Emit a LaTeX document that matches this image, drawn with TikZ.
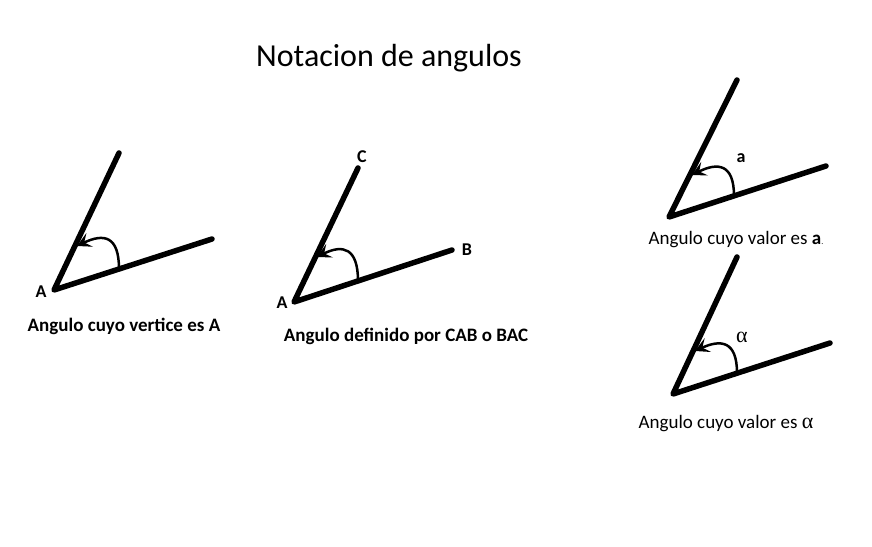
\documentclass[tikz,border=0pt]{standalone}
\usepackage{fontspec}
\setmainfont{Carlito}
\newfontfamily\greekfont{Liberation Serif}
\usetikzlibrary{arrows.meta}
\begin{document}
\begin{tikzpicture}[x=1pt,y=-1pt,
  arm/.style={line width=5.5pt,line cap=round,line join=round},
  arcar/.style={line width=2.5pt,-{Stealth[length=14pt,width=15pt,inset=6pt]}},
  lbl/.style={font=\fontsize{18}{18}\selectfont\bfseries,inner sep=0pt},
  capb/.style={font=\fontsize{19}{19}\selectfont\bfseries,inner sep=0pt},
  capr/.style={font=\fontsize{19}{19}\selectfont,inner sep=0pt}]
\useasboundingbox[fill=white] (0,0) rectangle (872,546);
\node[font=\fontsize{32}{32}\selectfont,inner sep=0pt] (title) at (389,58) {Notacion de angulos};
% figure 1
\coordinate (A1) at (54,290); \coordinate (U1) at (119,153); \coordinate (L1) at (212,239);
\draw[arm] (U1) -- (A1) -- (L1);
\coordinate (s1) at (119,269); \coordinate (e1) at (77,246);
\draw[arcar] (s1) .. controls (119,236) and (104,233) .. (e1);
\node[lbl] (la1) at (41,292) {A};
\node[capb] (c1) at (124,326) {Angulo cuyo vertice es A};
% figure 2
\coordinate (A2) at (294,302); \coordinate (U2) at (358,168); \coordinate (L2) at (452,250);
\draw[arm] (U2) -- (A2) -- (L2);
\coordinate (s2) at (358,281); \coordinate (e2) at (317,257);
\draw[arcar] (s2) .. controls (358,248) and (343,244) .. (e2);
\node[lbl] (la2) at (282,303) {A};
\node[lbl] (lc2) at (362,157) {C};
\node[lbl] (lb2) at (467,250) {B};
\node[capb] (c2) at (406,336) {Angulo definido por CAB o BAC};
% figure 3
\coordinate (A3) at (669,217); \coordinate (U3) at (737,80); \coordinate (L3) at (826,166);
\draw[arm] (U3) -- (A3) -- (L3);
\coordinate (s3) at (734,196); \coordinate (e3) at (692,175);
\draw[arcar] (s3) .. controls (734,164) and (718,162) .. (e3);
\node[lbl] (la3) at (741,158) {a};
\node[capr] (c3) at (736,240) {Angulo cuyo valor es \textbf{a}{\fontsize{8}{8}\selectfont .}};
% figure 4
\coordinate (A4) at (673,394); \coordinate (U4) at (737,257); \coordinate (L4) at (830,343);
\draw[arm] (U4) -- (A4) -- (L4);
\coordinate (s4) at (737,373); \coordinate (e4) at (695,351);
\draw[arcar] (s4) .. controls (737,341) and (721,339) .. (e4);
\node[inner sep=0pt,font=\fontsize{22}{22}\selectfont\greekfont] (la4) at (742,337) {α};
\node[capr] (c4) at (726,424) {Angulo cuyo valor es {\fontsize{22}{22}\selectfont\greekfont α}};
\end{tikzpicture}
\end{document}
